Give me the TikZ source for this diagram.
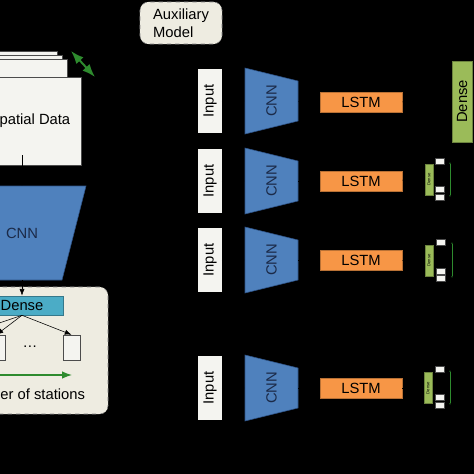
\documentclass[tikz,border=0pt]{standalone}
\usepackage{fontspec}
\setmainfont{Liberation Sans}
\usetikzlibrary{arrows.meta,positioning}
\definecolor{paper}{HTML}{EEECE1}
\definecolor{sheetw}{HTML}{F4F4F0}
\definecolor{cnnblue}{HTML}{4F81BD}
\definecolor{cnnedge}{HTML}{2F5489}
\definecolor{cnntext}{HTML}{1B2A48}
\definecolor{lstmor}{HTML}{F79646}
\definecolor{densegr}{HTML}{9BBB59}
\definecolor{denseaq}{HTML}{4BACC6}
\definecolor{arrgreen}{HTML}{2E8B2E}

\begin{document}
\begin{tikzpicture}[x=0.025cm, y=-0.025cm, font=\fontsize{10.5}{12.5}\selectfont,
  note/.style={draw=gray, dashed, fill=paper, rounded corners=6pt},
  sheet/.style={draw=black!70, fill=sheetw, line width=0.4pt},
  cnnshape/.style={draw=cnnedge, fill=cnnblue, line width=0.4pt},
  cnnlabel/.style={text=cnntext, inner sep=0pt},
  inbox/.style={fill=sheetw, rotate=90, minimum width=1.575cm, minimum height=0.575cm, inner sep=0pt},
  lstm/.style={draw=lstmor!75!black, fill=lstmor, minimum width=2.05cm, minimum height=0.5cm, inner sep=0pt},
  dense/.style={draw=densegr!70!black, fill=densegr, rotate=90, inner sep=0pt},
  unit/.style={draw=black!70, fill=sheetw, inner sep=0pt},
  arr/.style={-Latex}, garr/.style={-Latex, draw=arrgreen, line width=0.9pt}]
\fill[black] (0,0) rectangle (474,474);
\useasboundingbox (0,0) rectangle (474,474);
\clip (0,0) rectangle (474,474);

% auxiliary model label
\node[note, align=left, minimum width=2.05cm, minimum height=1.05cm] (aux) at (181,23) {Auxiliary\\Model};

% spatial data stack
\filldraw[sheet] (-80,51) rectangle (57,140);
\filldraw[sheet] (-80,55) rectangle (62,140);
\filldraw[sheet] (-80,59) rectangle (67,140);
\node[sheet, minimum width=4cm, minimum height=2.2cm] (sd) at (1,121) {};
\node (sdtxt) at (30,121) {Spatial Data};
\coordinate (sdout) at (22,155);
\coordinate (dpA) at (71,51);
\coordinate (dpB) at (95,77);
\draw[garr, Latex-Latex, line width=1.4pt] (dpA) -- (dpB);

% shared CNN
\filldraw[cnnshape] (-42,186) -- (86,186) -- (62,280) -- (-18,280) -- cycle;
\node[cnnlabel, minimum width=2cm, minimum height=2.35cm] (cnn0) at (22,233) {CNN};

% station outputs
\node[note, minimum width=3.45cm, minimum height=3.175cm] (box) at (39,350.5) {};
\node[draw=denseaq!70!black, fill=denseaq, minimum width=2.05cm, minimum height=0.475cm, inner sep=0pt] (dn) at (22,305.5) {Dense};
\node[unit, minimum width=0.425cm, minimum height=0.625cm] (st1) at (-35,347.5) {};
\node[unit, minimum width=0.425cm, minimum height=0.625cm] (st2) at (-3.5,347.5) {};
\node[unit, minimum width=0.425cm, minimum height=0.625cm] (st3) at (71.5,347.5) {};
\node (dots) at (30,347) {\dots};
\coordinate (nsA) at (-40,375);
\coordinate (nsB) at (72,375);
\draw[garr] (nsA) -- (nsB);
\node (nstxt) at (23,394) {Number of stations};
\draw[arr] (sdout) -- (cnn0);
\draw[arr] (cnn0) -- (dn);
\draw[arr] (dn.south) -- (st1.north); \draw[arr] (dn.south) -- (st2.north); \draw[arr] (dn.south) -- (st3.north);

% time steps
\node[inbox] (in1) at (210,101) {Input};
\node[inbox] (in2) at (210,181) {Input};
\node[inbox] (in3) at (210,260) {Input};
\node[inbox] (in4) at (210,388) {Input};
\filldraw[cnnshape] (245,68) -- (298,81) -- (298,121) -- (245,134) -- cycle;
\filldraw[cnnshape] (245,148) -- (298,161) -- (298,201) -- (245,214) -- cycle;
\filldraw[cnnshape] (245,227) -- (298,240) -- (298,280) -- (245,293) -- cycle;
\filldraw[cnnshape] (245,355) -- (298,368) -- (298,408) -- (245,421) -- cycle;
\node[cnnlabel, rotate=90, minimum width=1.65cm, minimum height=1.325cm] (cnn1) at (271.5,101) {CNN};
\node[cnnlabel, rotate=90, minimum width=1.65cm, minimum height=1.325cm] (cnn2) at (271.5,181) {CNN};
\node[cnnlabel, rotate=90, minimum width=1.65cm, minimum height=1.325cm] (cnn3) at (271.5,260) {CNN};
\node[cnnlabel, rotate=90, minimum width=1.65cm, minimum height=1.325cm] (cnn4) at (271.5,388) {CNN};
\node[lstm] (ls1) at (361,102) {LSTM};
\node[lstm] (ls2) at (361,181) {LSTM};
\node[lstm] (ls3) at (361,260) {LSTM};
\node[lstm] (ls4) at (361,388) {LSTM};
\node[dense, minimum width=2.025cm, minimum height=0.5cm] (out1) at (462,101.5) {Dense};
\node[dense, minimum width=0.775cm, minimum height=0.2cm, font=\fontsize{3}{3}\selectfont] (out2) at (429,179.5) {Dense};
\node[dense, minimum width=0.775cm, minimum height=0.2cm, font=\fontsize{3}{3}\selectfont] (out3) at (429,260.5) {Dense};
\node[dense, minimum width=0.775cm, minimum height=0.2cm, font=\fontsize{3}{3}\selectfont] (out4) at (428,388) {Dense};
\draw[arr] (in1) -- (cnn1); \draw[arr] (cnn1) -- (ls1); \draw[arr] (ls1) -- (out1);
\draw[arr] (in2) -- (cnn2); \draw[arr] (cnn2) -- (ls2); \draw[arr] (ls2) -- (out2);
\draw[arr] (in3) -- (cnn3); \draw[arr] (cnn3) -- (ls3); \draw[arr] (ls3) -- (out3);
\draw[arr] (in4) -- (cnn4); \draw[arr] (cnn4) -- (ls4); \draw[arr] (ls4) -- (out4);

% small station units
\node[unit, minimum width=0.225cm, minimum height=0.14cm] (u2a) at (440,161) {};
\node[unit, minimum width=0.225cm, minimum height=0.14cm] (u2b) at (440,189.5) {};
\node[unit, minimum width=0.225cm, minimum height=0.14cm] (u2c) at (440,197.5) {};
\node[unit, minimum width=0.225cm, minimum height=0.14cm] (u3a) at (440.5,242.5) {};
\node[unit, minimum width=0.225cm, minimum height=0.14cm] (u3b) at (440.5,271) {};
\node[unit, minimum width=0.225cm, minimum height=0.14cm] (u3c) at (440.5,278) {};
\node[unit, minimum width=0.225cm, minimum height=0.14cm] (u4a) at (439.5,369.5) {};
\node[unit, minimum width=0.225cm, minimum height=0.14cm] (u4b) at (439.5,397.5) {};
\node[unit, minimum width=0.225cm, minimum height=0.14cm] (u4c) at (439.5,405.5) {};
\coordinate (g2a) at (450,162); \coordinate (g2b) at (450,197);
\coordinate (g3a) at (452,242); \coordinate (g3b) at (452,278);
\coordinate (g4a) at (450,370); \coordinate (g4b) at (450,405);
\draw[arrgreen, line width=0.6pt, {Latex[length=1.2pt]}-{Latex[length=1.2pt]}] (g2a) -- (g2b);
\draw[arrgreen, line width=0.6pt, {Latex[length=1.2pt]}-{Latex[length=1.2pt]}] (g3a) -- (g3b);
\draw[arrgreen, line width=0.6pt, {Latex[length=1.2pt]}-{Latex[length=1.2pt]}] (g4a) -- (g4b);
\end{tikzpicture}
\end{document}
